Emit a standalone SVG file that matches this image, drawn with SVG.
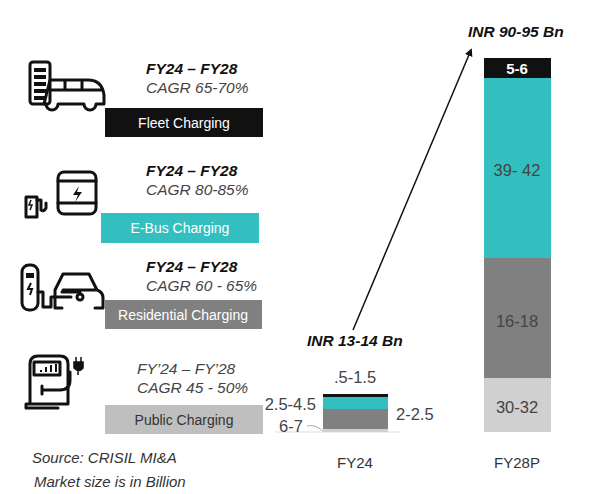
<svg xmlns="http://www.w3.org/2000/svg" width="600" height="494" viewBox="0 0 600 494">
<defs>
<style>
text{font-family:"Liberation Sans",Arial,sans-serif;}
.h{font-size:15.5px;font-weight:bold;font-style:italic;fill:#111}
.c{font-size:15.5px;font-style:italic;fill:#444}
.lb{font-size:14px;text-anchor:middle}
.v{font-size:16.5px;fill:#444}
.ic{fill:none;stroke:#111;stroke-width:3;stroke-linejoin:round;stroke-linecap:round}
</style>
<marker id="ah" markerWidth="8" markerHeight="8" refX="6" refY="4" orient="auto" markerUnits="userSpaceOnUse"><path d="M0,0 L8,4 L0,8 Z" fill="#111"/></marker>
</defs>
<rect width="600" height="494" fill="#fff"/>

<g id="fleet">
<rect x="30" y="62" width="20" height="42" rx="3" class="ic"/>
<path d="M34,70h12M34,77h12M34,84h12M34,91h12M34,98h12" stroke="#111" stroke-width="4"/>
<path class="ic" d="M50,80 h38 q14,0 16,15 v9 h-8 a6,6 0 0 1 -12,0 h-26 a6,6 0 0 1 -12,0 h-2 z M50,90 h52 M65,80 v10 M82,80 v10" fill="#fff"/>
<rect x="105" y="108" width="158" height="29" fill="#111"/>
<text class="lb" x="184" y="128" fill="#fff">Fleet Charging</text>
<text class="h" x="146" y="74">FY24 – FY28</text>
<text class="c" x="146" y="93">CAGR 65-70%</text>
</g>

<g id="ebus">
<rect x="26" y="197" width="11" height="20" class="ic" stroke-width="2"/>
<path d="M31,200 l-2,5h3l-2,5" stroke="#111" fill="none" stroke-width="1.5"/>
<path class="ic" stroke-width="2" d="M37,200 h4 v10 q3,2 5,-2 v-5"/>
<rect x="58" y="172" width="38" height="42" rx="6" class="ic"/>
<path class="ic" d="M58,181 h38 M58,203 h38"/>
<path d="M79,186 l-6,9h5l-3,7 7,-10h-5z" fill="#111"/>
<rect x="101" y="213" width="158" height="30" fill="#33bfbf"/>
<text class="lb" x="180" y="233" fill="#fff">E-Bus Charging</text>
<text class="h" x="146" y="176">FY24 – FY28</text>
<text class="c" x="146" y="195">CAGR 80-85%</text>
</g>

<g id="residential">
<rect x="22" y="265" width="16" height="45" rx="7" class="ic"/>
<rect x="26" y="273" width="8" height="5" fill="#111"/>
<path d="M31,283 l-3,6h4l-2,6" stroke="#111" stroke-width="2" fill="none"/>
<path class="ic" d="M38,292 h5 v15 h8 v-10 h20 M62,292 h18"/>
<path class="ic" d="M55,290 l8,-16 h26 l8,16 q6,2 6,8 v10 h-8 M62,308 h-7 v-18 M63,290 h34"/>
<circle cx="80" cy="297" r="3" class="ic"/>
<rect x="105" y="300" width="157" height="29" fill="#808080"/>
<text class="lb" x="183" y="320" fill="#fff">Residential Charging</text>
<text class="h" x="146" y="272">FY24 – FY28</text>
<text class="c" x="146" y="291">CAGR 60 - 65%</text>
</g>

<g id="public">
<path class="ic" d="M68,404 v-40 q0,-8 -8,-8 h-22 q-8,0 -8,8 v40 M58,408 h-32 v-4 h42"/>
<rect x="34" y="362" width="26" height="13" class="ic" stroke-width="2"/>
<path d="M41,372v-2M46,372v-5M51,372v-7M56,372v-8" stroke="#111" stroke-width="2"/>
<path class="ic" stroke-width="2" d="M42,390 h18 q10,0 10,-10 v-8 M42,386 v8"/>
<path d="M74,362 h9 v6 q-4,5 -9,0 z M76,357v5M81,357v5M78,371v4" fill="#111" stroke="#111" stroke-width="1.5"/>
<rect x="105" y="405" width="158" height="29" fill="#bfbfbf"/>
<text class="lb" x="184" y="425" fill="#333">Public Charging</text>
<text class="c" x="137" y="374">FY’24 – FY’28</text>
<text class="c" x="137" y="393">CAGR 45 - 50%</text>
</g>

<g id="fy24">
<line x1="275" y1="432" x2="400" y2="432" stroke="#ddd" stroke-width="1"/>
<rect x="323" y="394" width="65" height="3" fill="#111"/>
<rect x="323" y="397" width="65" height="12" fill="#33bfbf"/>
<rect x="323" y="409" width="65" height="20" fill="#808080"/>
<rect x="323" y="429" width="65" height="3" fill="#d0d0d0"/>
<text class="v" x="355" y="383" text-anchor="middle">.5-1.5</text>
<text class="v" x="316" y="410" text-anchor="end">2.5-4.5</text>
<text class="v" x="396" y="420">2-2.5</text>
<text class="v" x="279" y="432">6-7</text>
<path d="M307,426 q8,-2 16,5" fill="none" stroke="#aaa"/>
<text x="355" y="468" text-anchor="middle" font-size="15" fill="#333">FY24</text>
<text class="h" x="307" y="346">INR 13-14 Bn</text>
</g>

<g id="fy28">
<rect x="484" y="58" width="67" height="20" fill="#111"/>
<rect x="484" y="78" width="67" height="180" fill="#33bfbf"/>
<rect x="484" y="258" width="67" height="120" fill="#808080"/>
<rect x="484" y="378" width="67" height="54" fill="#d0d0d0"/>
<text x="517" y="74" text-anchor="middle" font-size="15" font-weight="bold" fill="#fff">5-6</text>
<text class="v" x="517" y="176" text-anchor="middle">39- 42</text>
<text class="v" x="517" y="327" text-anchor="middle">16-18</text>
<text class="v" x="517" y="413" text-anchor="middle">30-32</text>
<text x="517" y="468" text-anchor="middle" font-size="15" fill="#333">FY28P</text>
<text class="h" x="468" y="37">INR 90-95 Bn</text>
</g>

<g id="connectors">
<line x1="353" y1="330" x2="471" y2="50" stroke="#111" stroke-width="1.5" marker-end="url(#ah)"/>
</g>

<text x="32" y="463" font-size="15" font-style="italic" fill="#333">Source: CRISIL MI&amp;A</text>
<text x="34" y="487" font-size="15" font-style="italic" fill="#333">Market size is in Billion</text>
</svg>
